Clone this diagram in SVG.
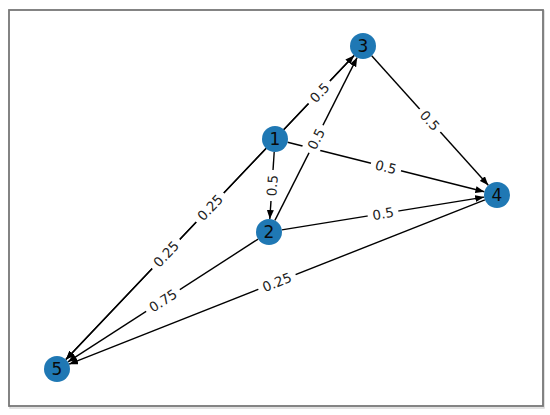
<svg xmlns="http://www.w3.org/2000/svg" width="550" height="415" viewBox="0 0 550 415">
<style>
.frame{fill:#fff;stroke:#777;stroke-width:1.8}
.edge{stroke:#000;stroke-width:1.4;fill:none;marker-end:url(#arr)}
.node circle{fill:#1f78b4}
.node text{font-family:"DejaVu Sans",sans-serif;font-size:17px;fill:#0a0a0a;text-anchor:middle}
.lbl rect{fill:#fff}
.lbl text{font-family:"DejaVu Sans",sans-serif;font-size:13.5px;fill:#222;text-anchor:middle}
</style>
<defs>
<marker id="arr" markerUnits="userSpaceOnUse" markerWidth="9" markerHeight="7" refX="9" refY="3.5" orient="auto">
<path d="M0,0 L9,3.5 L0,7 z" fill="#000"/>
</marker>
</defs>
<rect x="0" y="0" width="550" height="415" fill="#fff"/>
<rect x="10" y="11" width="534" height="397" fill="none" stroke="#d8d8d8" stroke-width="1.5"/>
<rect class="frame" x="9" y="10" width="534" height="396"/>
<g id="edges">
<line class="edge" x1="283.9" y1="129.6" x2="354.1" y2="55.4"/>
<line class="edge" x1="287.6" y1="142.2" x2="484.4" y2="191.8"/>
<line class="edge" x1="274.2" y1="152.0" x2="269.8" y2="219.0"/>
<line class="edge" x1="266.1" y1="148.4" x2="65.9" y2="359.6"/>
<line class="edge" x1="354.1" y1="55.4" x2="65.9" y2="359.6"/>
<line class="edge" x1="274.9" y1="220.4" x2="357.1" y2="57.6"/>
<line class="edge" x1="281.8" y1="229.9" x2="484.2" y2="197.1"/>
<line class="edge" x1="258.1" y1="239.1" x2="67.9" y2="361.9"/>
<line class="edge" x1="371.7" y1="55.7" x2="488.3" y2="185.3"/>
<line class="edge" x1="484.9" y1="199.8" x2="69.1" y2="364.2"/>
</g>
<g id="edge-labels">
<g class="lbl" transform="translate(319.5,92.5) rotate(-46.6)"><rect x="-15.5" y="-9" width="31" height="18" rx="4"/><text y="5">0.5</text></g>
<g class="lbl" transform="translate(386,167) rotate(14.2)"><rect x="-15.5" y="-9" width="31" height="18" rx="4"/><text y="5">0.5</text></g>
<g class="lbl" transform="translate(272,185.5) rotate(-86.3)"><rect x="-15.5" y="-9" width="31" height="18" rx="4"/><text y="5">0.5</text></g>
<g class="lbl" transform="translate(166,254) rotate(-46.5)"><rect x="-20" y="-9" width="40" height="18" rx="4"/><text y="5">0.25</text></g>
<g class="lbl" transform="translate(210,207.5) rotate(-46.5)"><rect x="-20" y="-9" width="40" height="18" rx="4"/><text y="5">0.25</text></g>
<g class="lbl" transform="translate(316,139) rotate(-63.2)"><rect x="-15.5" y="-9" width="31" height="18" rx="4"/><text y="5">0.5</text></g>
<g class="lbl" transform="translate(383,213.5) rotate(-9.2)"><rect x="-15.5" y="-9" width="31" height="18" rx="4"/><text y="5">0.5</text></g>
<g class="lbl" transform="translate(163,300.5) rotate(-32.9)"><rect x="-20" y="-9" width="40" height="18" rx="4"/><text y="5">0.75</text></g>
<g class="lbl" transform="translate(430,120.5) rotate(48)"><rect x="-15.5" y="-9" width="31" height="18" rx="4"/><text y="5">0.5</text></g>
<g class="lbl" transform="translate(277,282) rotate(-21.6)"><rect x="-20" y="-9" width="40" height="18" rx="4"/><text y="5">0.25</text></g>
</g>
<g id="node-1" class="node"><circle cx="275" cy="139" r="13"/><text x="275" y="145">1</text></g>
<g id="node-2" class="node"><circle cx="269" cy="232" r="13"/><text x="269" y="238">2</text></g>
<g id="node-3" class="node"><circle cx="363" cy="46" r="13"/><text x="363" y="52">3</text></g>
<g id="node-4" class="node"><circle cx="497" cy="195" r="13"/><text x="497" y="201">4</text></g>
<g id="node-5" class="node"><circle cx="57" cy="369" r="13"/><text x="57" y="375">5</text></g>
</svg>
